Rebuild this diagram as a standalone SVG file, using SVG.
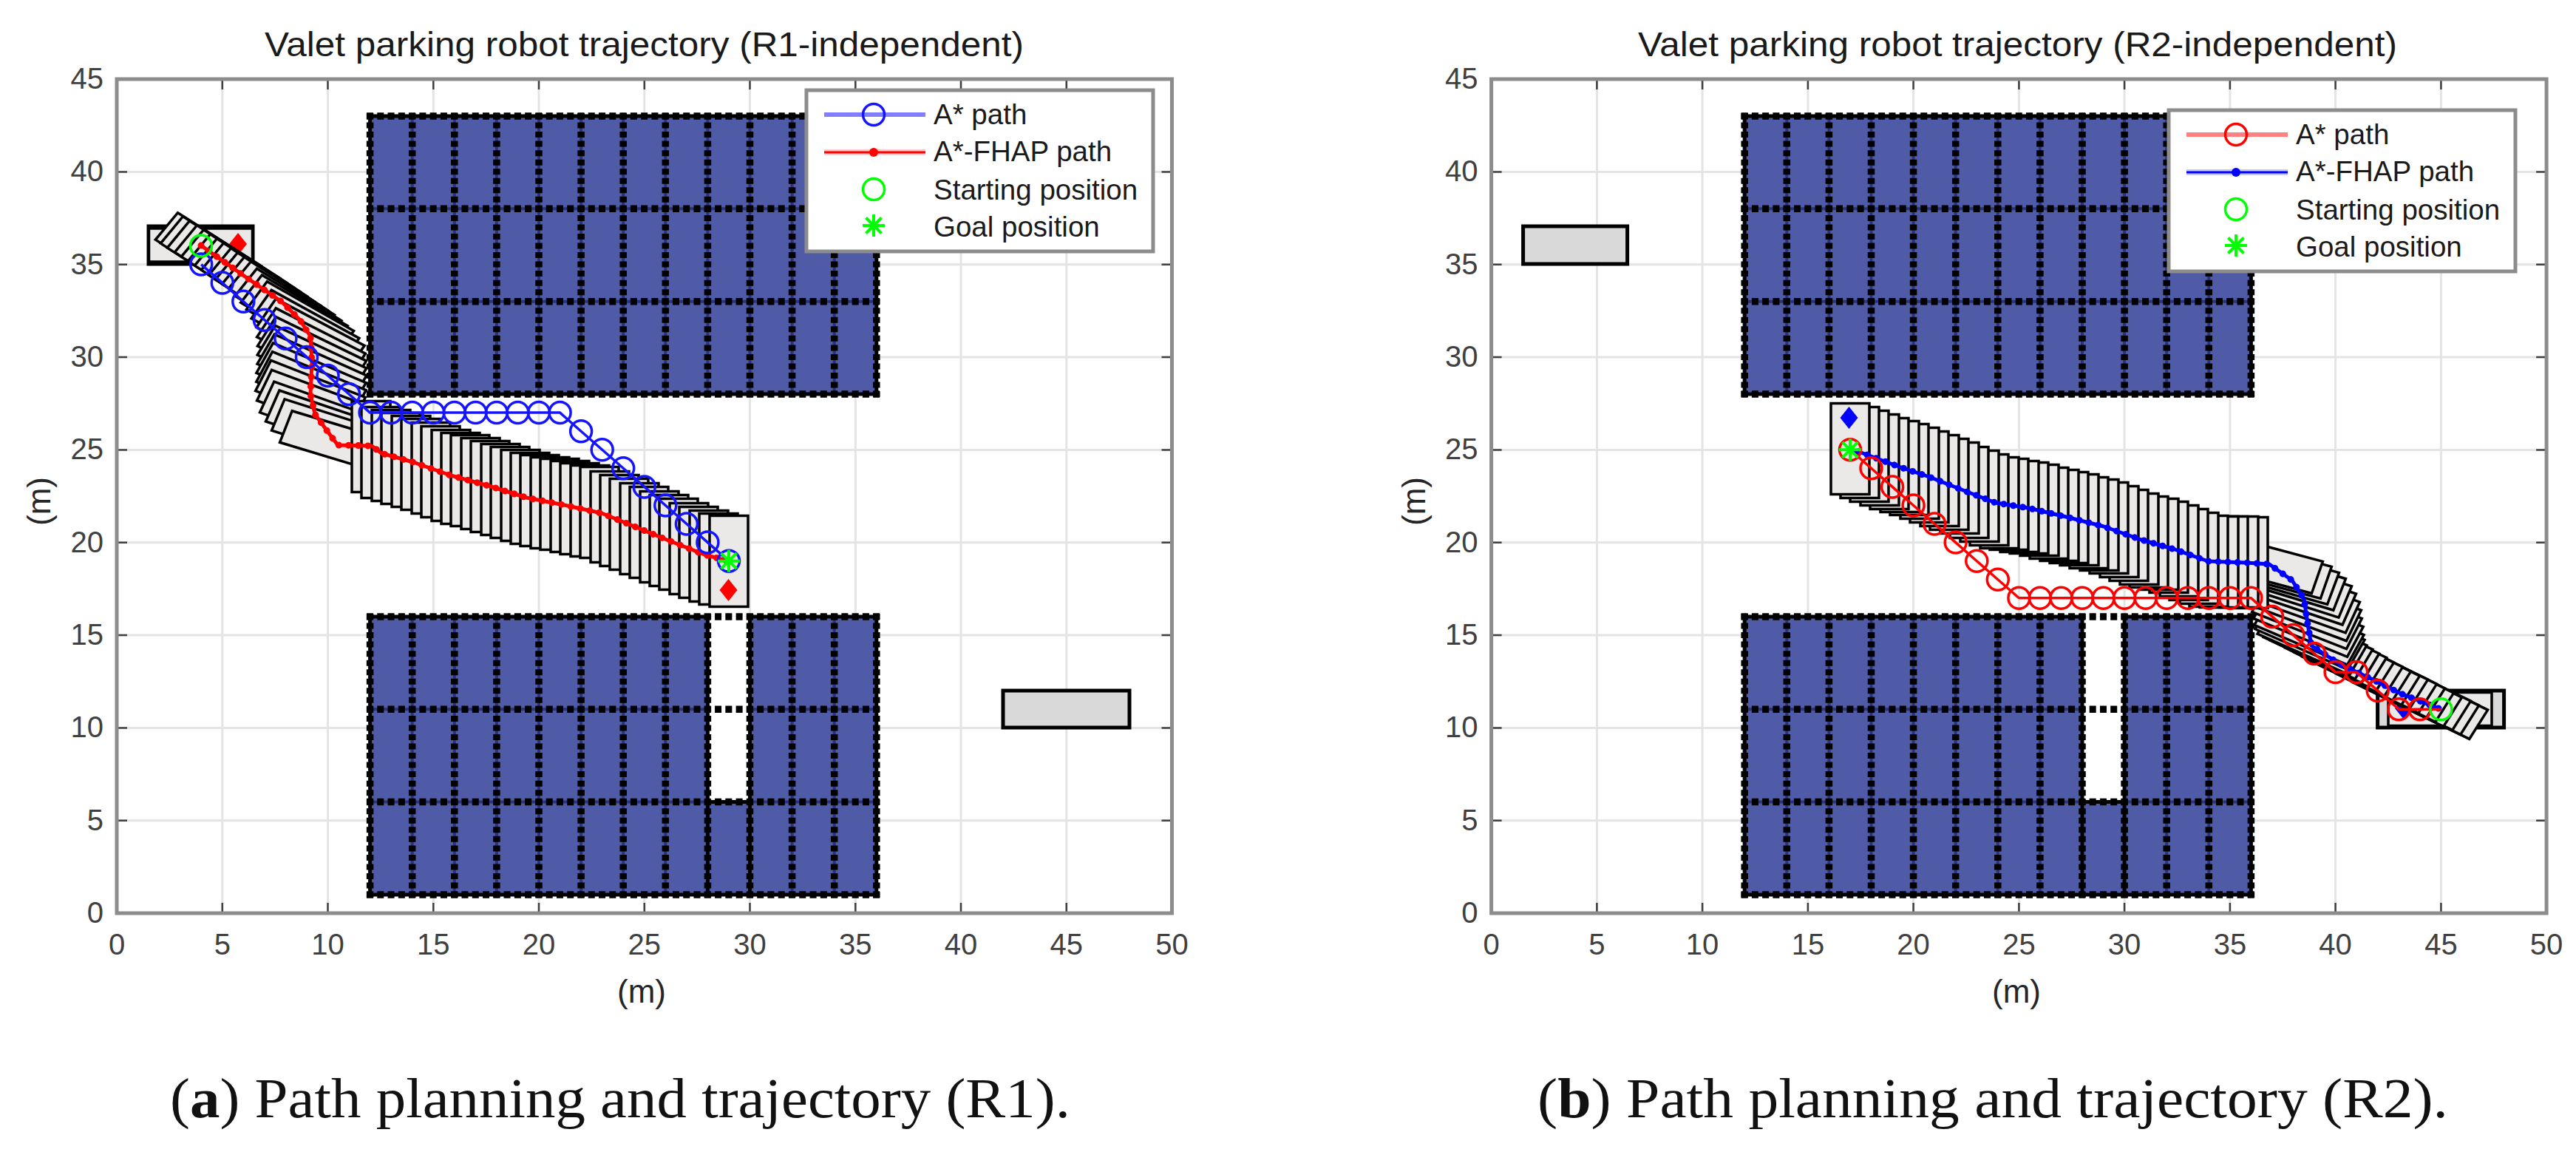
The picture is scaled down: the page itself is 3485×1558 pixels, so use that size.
<svg xmlns="http://www.w3.org/2000/svg" width="3485" height="1558" viewBox="0 0 3485 1558">
<style>
text{font-family:"Liberation Sans",Arial,sans-serif}
.tk{font-size:40px;fill:#404040}
.xt{text-anchor:middle}
.yt{text-anchor:end}
.lb{font-size:44px;fill:#262626;text-anchor:middle}
.ti{font-size:46px;fill:#1a1a1a}
.lg{font-size:38.5px;fill:#1a1a1a}
.cap{font-family:"Liberation Serif","Times New Roman",serif;font-size:76px;fill:#111}
.car{fill:#ebe8e8;stroke:#000;stroke-width:3.5;vector-effect:non-scaling-stroke}
.st{fill:#d9d9d9;stroke:#000;stroke-width:5}
.grid{stroke:#e4e4e4;stroke-width:3;fill:none}
.tick{stroke:#404040;stroke-width:2.5;fill:none}
.bx{stroke:#8c8c8c;stroke-width:5;fill:none}
.leg{fill:#fff;stroke:#8c8c8c;stroke-width:5}
.dv{fill:none;stroke:#000;stroke-width:9.5;stroke-dasharray:8 4.535}
.dh{fill:none;stroke:#000;stroke-width:9.5;stroke-dasharray:9 5.275}
.ln{fill:none;stroke:#2a3478;stroke-width:4}
.edge{fill:none;stroke:#000;stroke-width:5}
.pb{fill:none;stroke:#1414ff;stroke-width:3.5;stroke-linejoin:round}
.pr{fill:none;stroke:#ff0000;stroke-width:3.5;stroke-linejoin:round}
.fr{fill:none;stroke:#ff0000;stroke-width:5;stroke-linejoin:round}
.fb{fill:none;stroke:#0000ff;stroke-width:5;stroke-linejoin:round}
.dr{fill:none;stroke:#ff0000;stroke-width:9;stroke-linecap:round;stroke-dasharray:.1 13}
.db{fill:none;stroke:#0000ff;stroke-width:9;stroke-linecap:round;stroke-dasharray:.1 13}
.o{fill:none;stroke-width:3.5}
.star{fill:none;stroke:#00ff00;stroke-width:4}
</style>
<defs>
<rect id="h" class="car" x="-70" y="-22.5" width="140" height="45"/>
<rect id="v" class="car" x="-26" y="-61.4" width="52" height="122.8"/>
<rect id="r" class="car" x="-61.4" y="-22.5" width="122.8" height="45"/>
<polygon id="dia" points="0,-15 12,0 0,15 -12,0"/>
<path id="sr" class="star" d="M-15 0H15M0 -15V15M-10.5 -10.5L10.5 10.5M-10.5 10.5L10.5 -10.5"/>
<circle id="go" class="o" r="14.5" stroke="#00ff00"/>
<marker id="mb" markerUnits="userSpaceOnUse" markerWidth="36" markerHeight="36" refX="18" refY="18" overflow="visible"><circle cx="18" cy="18" r="14.5" fill="none" stroke="#1414ff" stroke-width="3.5"/></marker>
<marker id="mr" markerUnits="userSpaceOnUse" markerWidth="36" markerHeight="36" refX="18" refY="18" overflow="visible"><circle cx="18" cy="18" r="14.5" fill="none" stroke="#ff0000" stroke-width="3.5"/></marker>
<g id="gridlines">
<path class="grid" d="M300.8 107V1235M443.5 107V1235M586.3 107V1235M729 107V1235M871.8 107V1235M1014.5 107V1235M1157.3 107V1235M1300 107V1235M1442.8 107V1235M158 1109.7H1585.5M158 984.4H1585.5M158 859.1H1585.5M158 733.7H1585.5M158 608.4H1585.5M158 483H1585.5M158 357.7H1585.5M158 232.4H1585.5"/>
</g>
<g id="frame">
<path class="tick" d="M300.8 1235V1221M443.5 1235V1221M586.3 1235V1221M729 1235V1221M871.8 1235V1221M1014.5 1235V1221M1157.3 1235V1221M1300 1235V1221M1442.8 1235V1221M300.8 107V121M443.5 107V121M586.3 107V121M729 107V121M871.8 107V121M1014.5 107V121M1157.3 107V121M1300 107V121M1442.8 107V121M158 1109.7H172M158 984.4H172M158 859.1H172M158 733.7H172M158 608.4H172M158 483H172M158 357.7H172M158 232.4H172M1585.5 1109.7H1571.5M1585.5 984.4H1571.5M1585.5 859.1H1571.5M1585.5 733.7H1571.5M1585.5 608.4H1571.5M1585.5 483H1571.5M1585.5 357.7H1571.5M1585.5 232.4H1571.5"/>
<rect class="bx" x="158" y="107" width="1427.5" height="1128"/>
</g>
<g id="blocks">
<rect x="500.6" y="157" width="685.2" height="376" fill="#4f5ba6"/>
<rect x="500.6" y="833.9" width="685.2" height="376" fill="#4f5ba6"/>
<rect x="957.4" y="833.9" width="57.1" height="250.7" fill="#fff"/>
<path class="ln" d="M557.7 157V533M614.8 157V533M671.9 157V533M729 157V533M786.1 157V533M843.2 157V533M900.3 157V533M1071.6 157V533M957.4 157V533M1014.5 157V533M1128.7 157V533M500.6 282.3H1185.8M500.6 407.7H1185.8M557.7 834V1210M614.8 834V1210M671.9 834V1210M729 834V1210M786.1 834V1210M843.2 834V1210M900.3 834V1210M1071.6 834V1210M1128.7 834V1210M500.6 959.2H957.4M1014.5 959.2H1185.8M500.6 1084.6H1185.8"/>
<path class="edge" d="M500.6 157H1185.8V533H500.6ZM957.4 834H500.6V1210H1185.8V834H1014.5M957.4 834V1210M1014.5 834V1210M957.4 1084.6H1014.5"/>
<path class="dv" d="M500.6 153V537M557.7 153V537M614.8 153V537M671.9 153V537M729 153V537M786.1 153V537M843.2 153V537M900.3 153V537M957.4 153V537M1014.5 153V537M1071.6 153V537M1128.7 153V537M1185.8 153V537M500.6 830V1214M557.7 830V1214M614.8 830V1214M671.9 830V1214M729 830V1214M786.1 830V1214M843.2 830V1214M900.3 830V1214M957.4 830V1214M1014.5 830V1214M1071.6 830V1214M1128.7 830V1214M1185.8 830V1214"/>
<path class="dh" d="M496 157H1190M496 282.3H1190M496 407.7H1190M496 533H1190M496 833.9H1190M496 959.2H1190M496 1084.6H1190M496 1209.9H1190"/>
</g>
</defs>
<rect width="3485" height="1558" fill="#fff"/>

<g id="panel-a">
<use href="#gridlines"/>
<rect id="static-r2-a" class="st" x="1357" y="934" width="171" height="50"/>
<rect id="static-r1-a" class="st" x="201" y="306" width="141" height="51"/>
<use href="#blocks"/>
<g id="robot-a">
<use href="#h" x="271.5" y="331.5"/>
<use href="#dia" x="322" y="330" fill="#ff0000"/>
<use href="#r" transform="translate(282 342) scale(1.139 1) rotate(36)"/>
<use href="#r" transform="translate(289 347) scale(1.139 1) rotate(36)"/>
<use href="#r" transform="translate(298 353) scale(1.139 1) rotate(36)"/>
<use href="#r" transform="translate(308 359) scale(1.139 1) rotate(36)"/>
<use href="#r" transform="translate(317 365) scale(1.139 1) rotate(36)"/>
<use href="#r" transform="translate(326 371) scale(1.139 1) rotate(36)"/>
<use href="#r" transform="translate(335 377) scale(1.139 1) rotate(36)"/>
<use href="#r" transform="translate(344 383) scale(1.139 1) rotate(36)"/>
<use href="#r" transform="translate(354 390) scale(1.139 1) rotate(36)"/>
<use href="#r" transform="translate(363 396) scale(1.139 1) rotate(36)"/>
<use href="#r" transform="translate(372 402) scale(1.139 1) rotate(36)"/>
<use href="#r" transform="translate(381 408) scale(1.139 1) rotate(36)"/>
<use href="#r" transform="translate(390 417) scale(1.139 1) rotate(35)"/>
<use href="#r" transform="translate(398 425) scale(1.139 1) rotate(34)"/>
<use href="#r" transform="translate(406 433) scale(1.139 1) rotate(33)"/>
<use href="#r" transform="translate(413 444) scale(1.139 1) rotate(32)"/>
<use href="#r" transform="translate(420 455) scale(1.139 1) rotate(31)"/>
<use href="#r" transform="translate(421 467) scale(1.139 1) rotate(30)"/>
<use href="#r" transform="translate(422 478) scale(1.139 1) rotate(29)"/>
<use href="#r" transform="translate(422 489) scale(1.139 1) rotate(28)"/>
<use href="#r" transform="translate(422 500) scale(1.139 1) rotate(27)"/>
<use href="#r" transform="translate(421 511) scale(1.139 1) rotate(26)"/>
<use href="#r" transform="translate(421 522) scale(1.139 1) rotate(25)"/>
<use href="#r" transform="translate(420 533) scale(1.139 1) rotate(24)"/>
<use href="#r" transform="translate(422 545) scale(1.139 1) rotate(23)"/>
<use href="#r" transform="translate(426 560) scale(1.139 1) rotate(22)"/>
<use href="#r" transform="translate(434 571) scale(1.139 1) rotate(21)"/>
<use href="#r" transform="translate(442 582) scale(1.139 1) rotate(20)"/>
<use href="#r" transform="translate(453 597) scale(1.139 1) rotate(19)"/>
<use href="#v" x="502" y="604"/><use href="#v" x="515" y="612"/><use href="#v" x="529" y="616"/><use href="#v" x="542" y="620"/><use href="#v" x="556" y="624"/><use href="#v" x="569" y="628"/><use href="#v" x="583" y="633"/><use href="#v" x="596" y="638"/><use href="#v" x="610" y="643"/><use href="#v" x="623" y="647"/><use href="#v" x="636" y="650"/><use href="#v" x="650" y="654"/><use href="#v" x="663" y="658"/><use href="#v" x="677" y="662"/><use href="#v" x="690" y="666"/><use href="#v" x="704" y="670"/><use href="#v" x="717" y="674"/><use href="#v" x="730" y="677"/><use href="#v" x="744" y="680"/><use href="#v" x="757" y="682"/><use href="#v" x="771" y="685"/><use href="#v" x="784" y="688"/><use href="#v" x="798" y="691"/><use href="#v" x="811" y="693"/><use href="#v" x="825" y="699"/><use href="#v" x="838" y="704"/><use href="#v" x="851" y="709"/><use href="#v" x="865" y="715"/><use href="#v" x="878" y="720"/><use href="#v" x="892" y="726"/><use href="#v" x="905" y="731"/><use href="#v" x="918" y="736"/><use href="#v" x="932" y="742"/><use href="#v" x="945" y="747"/><use href="#v" x="959" y="752"/><use href="#v" x="972" y="756"/><use href="#v" x="986" y="759"/>
<use href="#dia" x="985.5" y="798" fill="#ff0000"/>
</g>
<g id="paths-a">
<path class="fr" d="M272 332L330 373L381 408L406 433L420 455L422 489L420 533L426 560L442 582L457 602L503 603L516 613L559 625L610 643L661 657L712 673L763 683L814 694L851 709L902 730L953 750L986 759"/>
<path class="dr" d="M272 332L330 373L381 408L406 433L420 455L422 489L420 533L426 560L442 582L457 602L503 603L516 613L559 625L610 643L661 657L712 673L763 683L814 694L851 709L902 730L953 750L986 759"/>
<polyline class="pb" marker-start="url(#mb)" marker-mid="url(#mb)" marker-end="url(#mb)" points="272.2,357.6 300.8,382.6 329.3,407.7 357.9,432.8 386.4,457.8 415,482.9 443.5,508 472.1,533 500.6,558.1 529.2,558.1 557.7,558.1 586.3,558.1 614.8,558.1 643.4,558.1 671.9,558.1 700.5,558.1 729,558.1 757.6,558.1 786.1,583.2 814.7,608.3 843.2,633.3 871.8,658.4 900.3,683.5 928.9,708.5 957.4,733.6 986,758.7"/>
<use href="#go" x="272" y="332.5"/>
<use href="#sr" x="986" y="758.7"/>
</g>
<use href="#frame"/>
<g id="legend-a">
<rect class="leg" x="1091" y="122" width="469" height="218"/>
<path d="M1115 155H1252" fill="none" stroke="#7f7fff" stroke-width="6"/>
<circle cx="1182" cy="155" r="14.5" class="o" stroke="#1414ff"/>
<path d="M1115 206H1252" fill="none" stroke="#ffc8c8" stroke-width="8"/>
<path d="M1115 206H1252" fill="none" stroke="#ff0000" stroke-width="3"/>
<circle cx="1182" cy="206" r="6" fill="#ff0000"/>
<use href="#go" x="1182" y="256"/>
<use href="#sr" x="1182" y="305"/>
<text class="lg" x="1263" y="168">A* path</text>
<text class="lg" x="1263" y="218">A*-FHAP path</text>
<text class="lg" x="1263" y="270">Starting position</text>
<text class="lg" x="1263" y="320">Goal position</text>
</g>
<g id="labels-a">
<text class="ti" x="358" y="76" textLength="1027" lengthAdjust="spacingAndGlyphs">Valet parking robot trajectory (R1-independent)</text>
<text class="tk xt" x="158" y="1291">0</text><text class="tk xt" x="300.8" y="1291">5</text><text class="tk xt" x="443.5" y="1291">10</text><text class="tk xt" x="586.3" y="1291">15</text><text class="tk xt" x="729" y="1291">20</text><text class="tk xt" x="871.8" y="1291">25</text><text class="tk xt" x="1014.5" y="1291">30</text><text class="tk xt" x="1157.3" y="1291">35</text><text class="tk xt" x="1300" y="1291">40</text><text class="tk xt" x="1442.8" y="1291">45</text><text class="tk xt" x="1585.5" y="1291">50</text>
<text class="tk yt" x="140" y="1248">0</text><text class="tk yt" x="140" y="1123">5</text><text class="tk yt" x="140" y="997">10</text><text class="tk yt" x="140" y="872">15</text><text class="tk yt" x="140" y="747">20</text><text class="tk yt" x="140" y="621">25</text><text class="tk yt" x="140" y="496">30</text><text class="tk yt" x="140" y="371">35</text><text class="tk yt" x="140" y="245">40</text><text class="tk yt" x="140" y="120">45</text>
<text class="lb" x="868" y="1356">(m)</text>
<text class="lb" transform="translate(68 678) rotate(-90)">(m)</text>
<text class="cap" x="230" y="1511" textLength="1218" lengthAdjust="spacingAndGlyphs">(<tspan font-weight="bold">a</tspan>) Path planning and trajectory (R1).</text>
</g>
</g>

<g id="panel-b">
<use href="#gridlines" x="1859.6"/>
<rect id="static-r1-b" class="st" x="2060.6" y="306" width="141" height="51"/>
<rect id="static-r2-b" class="st" x="3216.6" y="934" width="171" height="50"/>
<use href="#blocks" x="1859.6"/>
<g id="robot-b">
<use href="#h" x="3301" y="959"/>
<use href="#dia" x="3252" y="958" fill="#0000ff"/>
<use href="#r" transform="translate(3292 950) scale(1.139 1) rotate(29)"/>
<use href="#r" transform="translate(3280 944) scale(1.139 1) rotate(29)"/>
<use href="#r" transform="translate(3269 938) scale(1.139 1) rotate(29)"/>
<use href="#r" transform="translate(3257 933) scale(1.139 1) rotate(29)"/>
<use href="#r" transform="translate(3246 927) scale(1.139 1) rotate(29)"/>
<use href="#r" transform="translate(3234 921) scale(1.139 1) rotate(29)"/>
<use href="#r" transform="translate(3223 915) scale(1.139 1) rotate(29)"/>
<use href="#r" transform="translate(3211 909) scale(1.139 1) rotate(29)"/>
<use href="#r" transform="translate(3200 904) scale(1.139 1) rotate(29)"/>
<use href="#r" transform="translate(3188 898) scale(1.139 1) rotate(29)"/>
<use href="#r" transform="translate(3177 892) scale(1.139 1) rotate(29)"/>
<use href="#r" transform="translate(3165 886) scale(1.139 1) rotate(29)"/>
<use href="#r" transform="translate(3155 880) scale(1.139 1) rotate(28.5)"/>
<use href="#r" transform="translate(3145 875) scale(1.139 1) rotate(28)"/>
<use href="#r" transform="translate(3136 870) scale(1.139 1) rotate(27.5)"/>
<use href="#r" transform="translate(3128 865) scale(1.139 1) rotate(27)"/>
<use href="#r" transform="translate(3125 858) scale(1.139 1) rotate(26.5)"/>
<use href="#r" transform="translate(3124 852) scale(1.139 1) rotate(26)"/>
<use href="#r" transform="translate(3123 842) scale(1.139 1) rotate(25)"/>
<use href="#r" transform="translate(3121 832) scale(1.139 1) rotate(24)"/>
<use href="#r" transform="translate(3120 822) scale(1.139 1) rotate(23)"/>
<use href="#r" transform="translate(3118 812) scale(1.139 1) rotate(22)"/>
<use href="#r" transform="translate(3113 802) scale(1.139 1) rotate(21)"/>
<use href="#r" transform="translate(3107 793) scale(1.139 1) rotate(20)"/>
<use href="#r" transform="translate(3099 784) scale(1.139 1) rotate(19)"/>
<use href="#r" transform="translate(3090 777) scale(1.139 1) rotate(18)"/>
<use href="#r" transform="translate(3080 770) scale(1.139 1) rotate(17)"/>
<use href="#r" transform="translate(3068 763) scale(1.139 1) rotate(17)"/>
<use href="#v" x="3042" y="761"/><use href="#v" x="3029" y="760"/><use href="#v" x="3015" y="760"/><use href="#v" x="3002" y="760"/><use href="#v" x="2988" y="759"/><use href="#v" x="2975" y="755"/><use href="#v" x="2961" y="750"/><use href="#v" x="2948" y="745"/><use href="#v" x="2934" y="740"/><use href="#v" x="2921" y="736"/><use href="#v" x="2907" y="733"/><use href="#v" x="2894" y="729"/><use href="#v" x="2880" y="724"/><use href="#v" x="2867" y="719"/><use href="#v" x="2853" y="714"/><use href="#v" x="2840" y="710"/><use href="#v" x="2826" y="707"/><use href="#v" x="2813" y="703"/><use href="#v" x="2799" y="700"/><use href="#v" x="2786" y="697"/><use href="#v" x="2772" y="694"/><use href="#v" x="2759" y="690"/><use href="#v" x="2745" y="687"/><use href="#v" x="2732" y="685"/><use href="#v" x="2718" y="682"/><use href="#v" x="2705" y="680"/><use href="#v" x="2691" y="676"/><use href="#v" x="2678" y="671"/><use href="#v" x="2664" y="666"/><use href="#v" x="2651" y="660"/><use href="#v" x="2637" y="655"/><use href="#v" x="2624" y="650"/><use href="#v" x="2610" y="645"/><use href="#v" x="2597" y="640"/><use href="#v" x="2583" y="635"/><use href="#v" x="2570" y="631"/><use href="#v" x="2556" y="627"/><use href="#v" x="2543" y="622"/><use href="#v" x="2529" y="617"/><use href="#v" x="2516" y="612"/><use href="#v" x="2503" y="607"/>
<use href="#dia" x="2501.5" y="565" fill="#0000ff"/>
</g>
<g id="paths-b">
<path class="fb" d="M3299 958L3248 938L3210 919L3165 898L3127 873L3122 844L3117 810L3101 785L3070 763L3038 761L2987 759L2942 743L2897 730L2846 712L2795 699L2744 687L2700 680L2661 665L2610 645L2566 630L2515 611L2503 608"/>
<path class="db" d="M3299 958L3248 938L3210 919L3165 898L3127 873L3122 844L3117 810L3101 785L3070 763L3038 761L2987 759L2942 743L2897 730L2846 712L2795 699L2744 687L2700 680L2661 665L2610 645L2566 630L2515 611L2503 608"/>
<polyline class="pr" marker-mid="url(#mr)" marker-end="url(#mr)" points="3302.4,959.2 3273.8,959.2 3245.3,959.2 3216.7,934.1 3188.2,909.1 3159.6,909.1 3131.1,884 3102.5,858.9 3074,833.9 3045.4,808.8 3016.9,808.8 2988.3,808.8 2959.8,808.8 2931.2,808.8 2902.7,808.8 2874.1,808.8 2845.6,808.8 2817,808.8 2788.5,808.8 2759.9,808.8 2731.4,808.8 2702.8,783.7 2674.3,758.7 2645.7,733.6 2617.2,708.5 2588.6,683.5 2560.1,658.4 2531.5,633.3 2503,608.3"/>
<use href="#go" x="3302.4" y="959.2"/>
<use href="#sr" x="2503" y="608.3"/>
</g>
<use href="#frame" x="1859.6"/>
<g id="legend-b">
<rect class="leg" x="2934" y="149" width="469" height="218"/>
<path d="M2958 182H3095" fill="none" stroke="#ff8080" stroke-width="6"/>
<circle cx="3025" cy="182" r="14.5" class="o" stroke="#ff0000"/>
<path d="M2958 233H3095" fill="none" stroke="#c8c8ff" stroke-width="8"/>
<path d="M2958 233H3095" fill="none" stroke="#0000ff" stroke-width="3"/>
<circle cx="3025" cy="233" r="6" fill="#0000ff"/>
<use href="#go" x="3025" y="283"/>
<use href="#sr" x="3025" y="332"/>
<text class="lg" x="3106" y="195">A* path</text>
<text class="lg" x="3106" y="245">A*-FHAP path</text>
<text class="lg" x="3106" y="297">Starting position</text>
<text class="lg" x="3106" y="347">Goal position</text>
</g>
<g id="labels-b">
<text class="ti" x="2216" y="76" textLength="1027" lengthAdjust="spacingAndGlyphs">Valet parking robot trajectory (R2-independent)</text>
<text class="tk xt" x="2017.6" y="1291">0</text><text class="tk xt" x="2160.4" y="1291">5</text><text class="tk xt" x="2303.1" y="1291">10</text><text class="tk xt" x="2445.9" y="1291">15</text><text class="tk xt" x="2588.6" y="1291">20</text><text class="tk xt" x="2731.4" y="1291">25</text><text class="tk xt" x="2874.1" y="1291">30</text><text class="tk xt" x="3016.9" y="1291">35</text><text class="tk xt" x="3159.6" y="1291">40</text><text class="tk xt" x="3302.4" y="1291">45</text><text class="tk xt" x="3445.1" y="1291">50</text>
<text class="tk yt" x="1999.6" y="1248">0</text><text class="tk yt" x="1999.6" y="1123">5</text><text class="tk yt" x="1999.6" y="997">10</text><text class="tk yt" x="1999.6" y="872">15</text><text class="tk yt" x="1999.6" y="747">20</text><text class="tk yt" x="1999.6" y="621">25</text><text class="tk yt" x="1999.6" y="496">30</text><text class="tk yt" x="1999.6" y="371">35</text><text class="tk yt" x="1999.6" y="245">40</text><text class="tk yt" x="1999.6" y="120">45</text>
<text class="lb" x="2728" y="1356">(m)</text>
<text class="lb" transform="translate(1927.6 678) rotate(-90)">(m)</text>
<text class="cap" x="2080" y="1511" textLength="1232" lengthAdjust="spacingAndGlyphs">(<tspan font-weight="bold">b</tspan>) Path planning and trajectory (R2).</text>
</g>
</g>
</svg>
